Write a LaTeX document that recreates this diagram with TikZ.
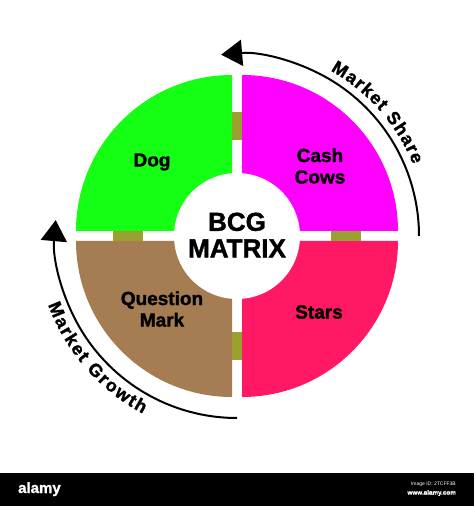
\documentclass[tikz,border=0pt]{standalone}
\usepackage{fontspec}
\setmainfont{Liberation Sans}[BoldFeatures={FakeBold=1.5}]
\usetikzlibrary{arrows.meta}
\definecolor{qgreen}{RGB}{20,255,20}
\definecolor{qmagenta}{RGB}{255,0,255}
\definecolor{qbrown}{RGB}{166,124,82}
\definecolor{qpink}{RGB}{255,25,100}
\definecolor{qolive}{RGB}{153,160,45}
\tikzset{
  quadlabel/.style={font=\bfseries\fontsize{19}{21.5}\selectfont, align=center, text=black},
  arcarrow/.style={line width=2pt, draw=black, -{Triangle[length=21pt,width=26pt]}},
  connector/.style={fill=qolive},
  arcletter/.style={font=\bfseries\fontsize{18}{18}\selectfont, anchor=base, inner sep=0pt, text=black},
}
% #1 name prefix, #2 start angle, #3 radius, #4 direction (+1 ccw / -1 cw), #5 gap, #6 list char/width
\newcommand\arcword[6]{%
  \gdef\arcacc{0}%
  \foreach \ch/\w [count=\i] in {#6} {%
    \pgfmathsetmacro\arcs{\arcacc + \w*0.018/2}%
    \pgfmathsetmacro\arcang{#2 + #4*\arcs/#3*57.29578}%
    \pgfmathsetmacro\arcrot{\arcang + #4*90}%
    \node[arcletter, rotate=\arcrot] (#1\i) at (\arcang:#3) {\ch};
    \pgfmathsetmacro\arcnew{\arcacc + \w*0.018 + #5}%
    \global\let\arcacc\arcnew
  }%
}
\begin{document}
\begin{tikzpicture}[x=1pt,y=1pt]
\useasboundingbox (-237,-270) rectangle (237,236);
\fill[white] (-237,-270) rectangle (237,236);
% quadrants
\fill[qgreen] (-5,5) -- (-161,5) arc[start angle=180,end angle=90,radius=156] -- cycle;
\fill[qmagenta] (5,5) -- (161,5) arc[start angle=0,end angle=90,radius=156] -- cycle;
\fill[qbrown] (-5,-5) -- (-161,-5) arc[start angle=180,end angle=270,radius=156] -- cycle;
\fill[qpink] (5,-5) -- (161,-5) arc[start angle=0,end angle=-90,radius=156] -- cycle;
% connectors
\fill[connector] (-5,96) rectangle (5,124);
\fill[connector] (-5,-96) rectangle (5,-124);
\fill[connector] (-124,-5) rectangle (-94,5);
\fill[connector] (94,-5) rectangle (124,5);
% center
\fill[white] (0,0) circle[radius=63];
\node[font=\bfseries\fontsize{26}{26.5}\selectfont, align=center] (center) at (0,1) {BCG\\MATRIX};
% labels
\node[quadlabel] (dog) at (-85,74) {Dog};
\node[quadlabel] (cash) at (83,70) {Cash\\Cows};
\node[quadlabel] (qm) at (-75,-73) {Question\\Mark};
\node[quadlabel] (stars) at (82,-76) {Stars};
% arrows
\draw[arcarrow] (0:182) arc[start angle=0,end angle=95,radius=182];
\draw[arcarrow] (270:182) arc[start angle=270,end angle=175,radius=182];
% arc texts
\arcword{ms}{60.5}{190}{-1}{1.3}{M/833,a/556,r/389,k/556,e/556,t/333,{}/278,S/667,h/611,a/556,r/389,e/556}
\arcword{mg}{200}{201}{1}{1.8}{M/833,a/556,r/389,k/556,e/556,t/333,{}/278,G/778,r/389,o/611,w/778,t/333,h/611}
% watermark bar
\fill[black] (-237,-270) rectangle (237,-237);
\node[text=white, font=\bfseries\fontsize{15}{15}\selectfont, anchor=base west, inner sep=0pt] (logo) at (-219,-257) {alamy};
\node[text=white, font=\fontsize{5}{5}\selectfont, anchor=east, inner sep=0pt] (imgid) at (219,-248) {Image ID: 2TCFF3B};
\node[text=white, font=\bfseries\fontsize{6.3}{6.3}\selectfont, anchor=east, inner sep=0pt] (www) at (219,-257) {www.alamy.com};
\end{tikzpicture}
\end{document}
